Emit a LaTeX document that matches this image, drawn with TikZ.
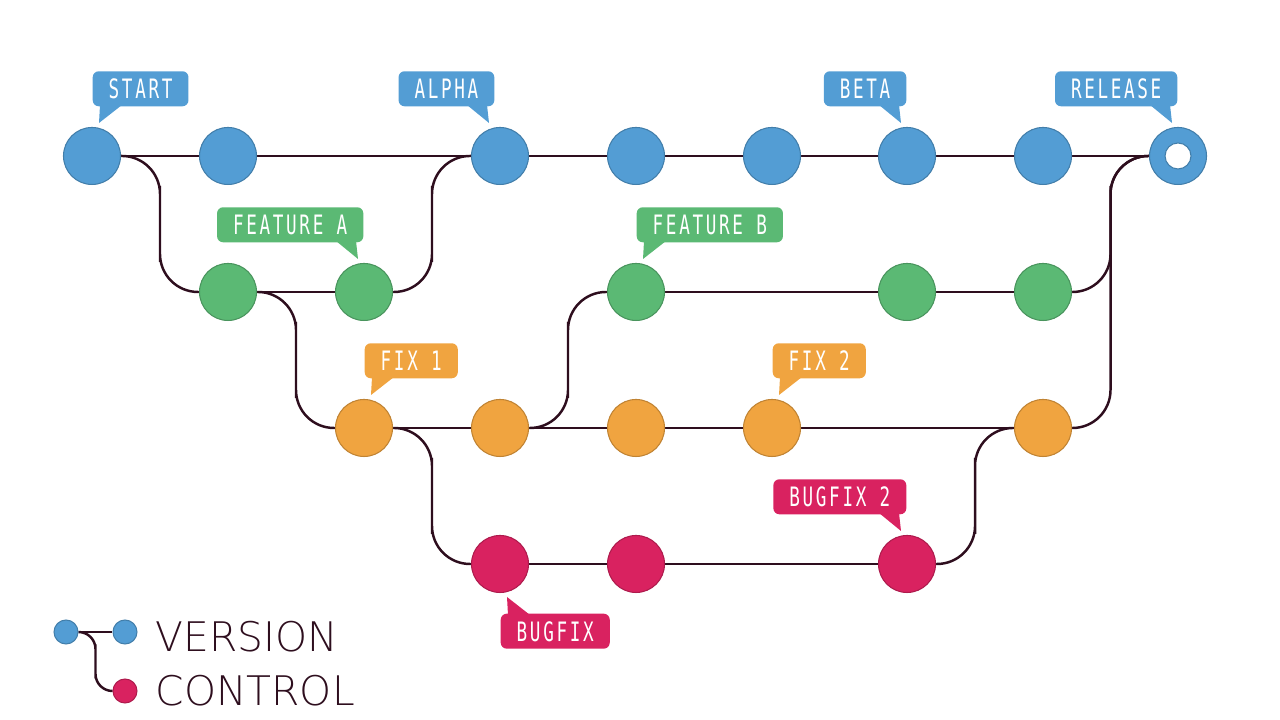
\documentclass[tikz,border=0pt]{standalone}
\usepackage{fontspec}
\newfontfamily\tagfont{DejaVu Sans Mono}[FakeStretch=0.66,LetterSpace=10]
\newfontfamily\legendfont{DejaVu Sans ExtraLight}
\usetikzlibrary{calc, positioning, backgrounds}
\definecolor{VC_blue}{RGB}{83,157,212}
\definecolor{VC_green}{RGB}{91,185,116}
\definecolor{VC_orange}{RGB}{240,164,64}
\definecolor{VC_pink}{RGB}{217,34,96}
\definecolor{VC_line}{RGB}{46,14,30}
\tikzset{
  commit/.style={circle, minimum size=5.7mm, inner sep=0pt, line width=0.3pt},
  cblue/.style={commit, fill=VC_blue, draw=VC_blue!80!black},
  cgreen/.style={commit, fill=VC_green, draw=VC_green!80!black},
  corange/.style={commit, fill=VC_orange, draw=VC_orange!80!black},
  cpink/.style={commit, fill=VC_pink, draw=VC_pink!80!black},
  tagbox/.style={rounded corners=0.6mm, minimum height=3.5mm, inner xsep=1.6mm, inner ysep=0pt,
    text height=2mm, text depth=0pt, text=white, font=\tagfont\fontsize{7.6}{8}\selectfont},
  branchline/.style={draw=VC_line, line width=0.7pt},
}
\newcommand{\tailleft}[2]{\fill[#2] ([xshift=0.8mm,yshift=0.2mm]#1.south west) -- ([xshift=3mm,yshift=0.2mm]#1.south west) -- ([xshift=0.7mm,yshift=-1.6mm]#1.south west) -- cycle;}
\newcommand{\tailright}[2]{\fill[#2] ([xshift=-2.8mm,yshift=0.2mm]#1.south east) -- ([xshift=-0.8mm,yshift=0.2mm]#1.south east) -- ([xshift=-0.6mm,yshift=-1.6mm]#1.south east) -- cycle;}
\newcommand{\branch}[3][0.38cm]{\draw[branchline, rounded corners=#1] (#2.east) -| ($(#2)!.5!(#3)$) |- (#3.west);}

\begin{document}
\begin{tikzpicture}
        \useasboundingbox (0,0) rectangle (12.8,7.2);

        % commits
        \foreach \n/\x in {1/0.92, 2/2.28, 3/5.00, 4/6.36, 5/7.72, 6/9.07, 7/10.43, 8/11.78}
            \node[cblue] (v\n) at (\x, 5.64) {};
        \foreach \n/\x in {1/2.28, 2/3.64, 3/6.36, 4/9.07, 5/10.43}
            \node[cgreen] (f\n) at (\x, 4.28) {};
        \foreach \n/\x in {1/3.64, 2/5.00, 3/6.36, 4/7.72, 5/10.43}
            \node[corange] (o\n) at (\x, 2.92) {};
        \foreach \n/\x in {1/5.00, 2/6.36, 3/9.07}
            \node[cpink] (p\n) at (\x, 1.56) {};
        \node[circle, fill=white, draw=VC_blue!80!black, line width=0.3pt, minimum size=2.6mm, inner sep=0pt] (v8hole) at (v8) {};

        % history lines
        \begin{scope}[on background layer]
            \draw[branchline] (v1) -- (v2) -- (v3) -- (v4) -- (v5) -- (v6) -- (v7) -- (v8);
            \draw[branchline] (f1) -- (f2);
            \draw[branchline] (f3) -- (f4) -- (f5);
            \draw[branchline] (o1) -- (o2) -- (o3) -- (o4) -- (o5);
            \draw[branchline] (p1) -- (p2) -- (p3);
            \branch{v1}{f1}
            \branch{f2}{v3}
            \branch{f1}{o1}
            \branch{o2}{f3}
            \branch{f5}{v8}
            \branch{o1}{p1}
            \branch{p3}{o5}
            \branch{o5}{v8}
        \end{scope}

        % tags
        \node[tagbox, fill=VC_blue, anchor=south west] (tStart) at ([yshift=4.9mm]v1.center) {START};
        \tailleft{tStart}{VC_blue}
        \node[tagbox, fill=VC_blue, anchor=south east] (tAlpha) at ([xshift=-0.5mm,yshift=4.9mm]v3.center) {ALPHA};
        \tailright{tAlpha}{VC_blue}
        \node[tagbox, fill=VC_blue, anchor=south east] (tBeta) at ([yshift=4.9mm]v6.center) {BETA};
        \tailright{tBeta}{VC_blue}
        \node[tagbox, fill=VC_blue, anchor=south east] (tRelease) at ([yshift=4.9mm]v8.center) {RELEASE};
        \tailright{tRelease}{VC_blue}
        \node[tagbox, fill=VC_green, anchor=south east] (tFeatA) at ([yshift=4.9mm]f2.center) {FEATURE A};
        \tailright{tFeatA}{VC_green}
        \node[tagbox, fill=VC_green, anchor=south west] (tFeatB) at ([yshift=4.9mm]f3.center) {FEATURE B};
        \tailleft{tFeatB}{VC_green}
        \node[tagbox, fill=VC_orange, anchor=south west] (tFixA) at ([yshift=4.9mm]o1.center) {FIX 1};
        \tailleft{tFixA}{VC_orange}
        \node[tagbox, fill=VC_orange, anchor=south west] (tFixB) at ([yshift=4.9mm]o4.center) {FIX 2};
        \tailleft{tFixB}{VC_orange}
        \node[tagbox, fill=VC_pink, anchor=south east] (tBugB) at ([yshift=4.9mm]p3.center) {BUGFIX 2};
        \tailright{tBugB}{VC_pink}
        \node[tagbox, fill=VC_pink, anchor=north west] (tBugA) at ([yshift=-4.9mm]p1.center) {BUGFIX};
        \fill[VC_pink] ([xshift=0.8mm,yshift=-0.2mm]tBugA.north west) -- ([xshift=3mm,yshift=-0.2mm]tBugA.north west) -- ([xshift=0.7mm,yshift=1.6mm]tBugA.north west) -- cycle;

        % legend
        \node[cblue, minimum size=2.4mm] (lgA) at (0.66, 0.88) {};
        \node[cblue, minimum size=2.4mm] (lgB) at (1.25, 0.88) {};
        \node[cpink, minimum size=2.4mm] (lgC) at (1.25, 0.29) {};
        \begin{scope}[on background layer]
            \draw[branchline] (lgA) -- (lgB);
            \branch[0.17cm]{lgA}{lgC}
        \end{scope}
        \node[anchor=base west, inner sep=0pt, text=VC_line, font=\legendfont\fontsize{11.6}{14}\selectfont] (lgVersion) at (1.55, 0.68) {VERSION};
        \node[anchor=base west, inner sep=0pt, text=VC_line, font=\legendfont\fontsize{11.6}{14}\selectfont] (lgControl) at (1.55, 0.14) {CONTROL};
    \end{tikzpicture}
\end{document}
